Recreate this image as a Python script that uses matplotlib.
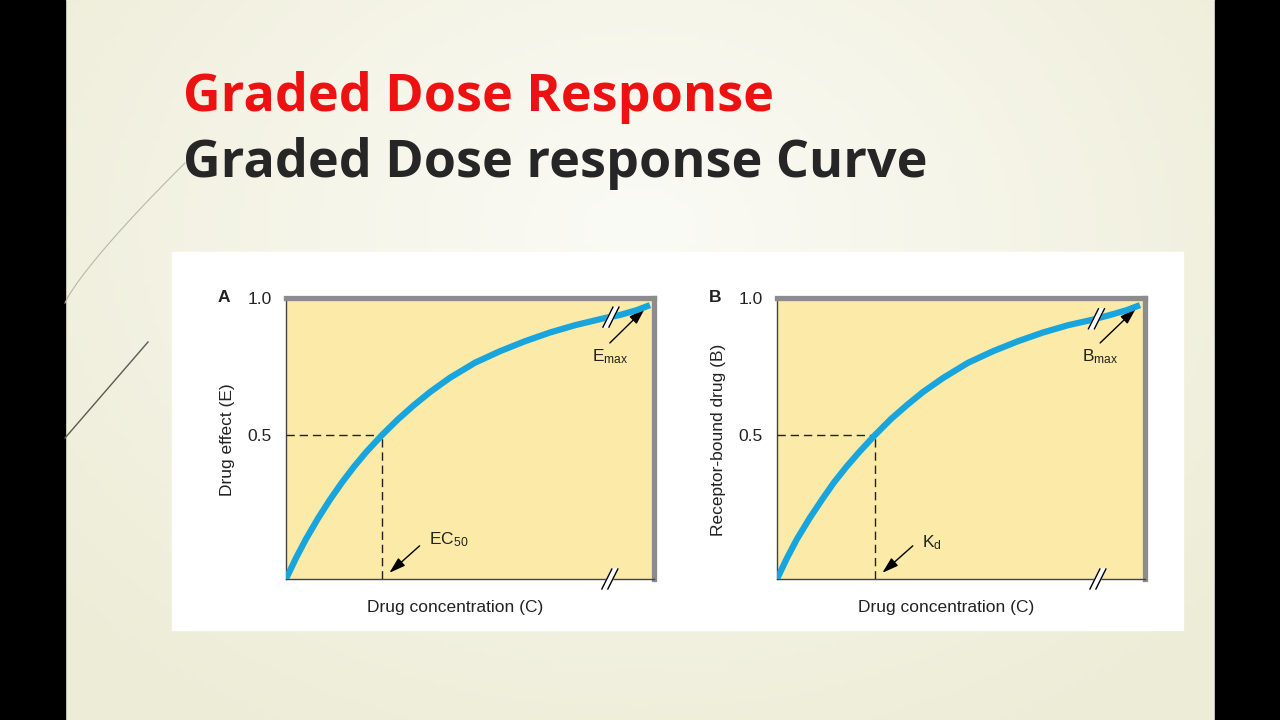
import numpy as np
import matplotlib.pyplot as plt
from matplotlib.patches import Rectangle

plt.rcParams['font.family'] = ['Liberation Sans', 'DejaVu Sans']
plt.rcParams['mathtext.fontset'] = 'custom'
plt.rcParams['mathtext.rm'] = 'Liberation Sans'
plt.rcParams['mathtext.it'] = 'Liberation Sans'

## Data (x is axis fraction, y in the tick scale)
conc_a = [0, 0.0272, 0.0543, 0.087, 0.1196, 0.1522, 0.1848, 0.2174, 0.2609, 0.3043, 0.3478,
          0.3913, 0.4457, 0.5136, 0.5815, 0.6495, 0.7174, 0.7853, 0.8668, 0.9076, 0.9538, 0.9891]
effect_a = [-0.0255, 0.0511, 0.1204, 0.1956, 0.2642, 0.327, 0.3843, 0.4369, 0.5, 0.5573, 0.6091,
            0.6566, 0.7091, 0.7639, 0.8058, 0.8423, 0.8741, 0.9007, 0.927, 0.938, 0.956, 0.974]
conc_b = [0, 0.0272, 0.0543, 0.0883, 0.1223, 0.1549, 0.1889, 0.2228, 0.2663, 0.3098, 0.3533,
          0.3967, 0.4511, 0.519, 0.587, 0.6549, 0.7228, 0.7908, 0.856, 0.9049, 0.9511, 0.9864]
bound_b = [-0.0255, 0.0511, 0.1204, 0.1956, 0.2642, 0.327, 0.3843, 0.4369, 0.5, 0.5584, 0.6095,
           0.6569, 0.708, 0.7635, 0.8058, 0.8423, 0.8741, 0.9007, 0.9204, 0.938, 0.956, 0.974]
ec50 = 0.2609
kd = 0.2663
half = 0.5
yticks = [0.5, 1.0]
ytick_labels = ['0.5', '1.0']

title_1 = 'Graded Dose Response'
title_2 = 'Graded Dose response Curve'

fig = plt.figure(figsize=(12.8, 7.2), dpi=100)

## Slide background
bg = fig.add_axes([0, 0, 1, 1])
gx, gy = np.meshgrid(np.linspace(0, 1280, 256), np.linspace(0, 720, 144))
r = np.sqrt(((gx - 640) / 800) ** 2 + ((gy - 230) / 600) ** 2)
r = np.clip(r, 0, 1)
c0 = np.array([251, 251, 246]) / 255
c1 = np.array([237, 236, 214]) / 255
img = c0[None, None, :] * (1 - r[..., None]) + c1[None, None, :] * r[..., None]
bg.imshow(img, extent=[0, 1280, 720, 0], aspect='auto')
bg.set_xlim(0, 1280)
bg.set_ylim(720, 0)
bg.axis('off')
bg.add_patch(Rectangle((0, 0), 65, 720, color='black'))
bg.add_patch(Rectangle((1215, 0), 65, 720, color='black'))
t = np.linspace(0, 1, 50)
bg.plot(65 + 120 * t, 303 - 140 * t ** 0.85, color='#b8b8a8', lw=0.8)
bg.plot(65 + 83 * t, 438 - 96 * t, color='#5a5a50', lw=1.0)
bg.add_patch(Rectangle((172, 252), 1011, 378, color='white'))

fig.text(0.143, 1 - 111 / 720, title_1, color='#EE1111', fontsize=37.5, fontweight='bold',
         family=['Open Sans', 'DejaVu Sans'], va='baseline')
fig.text(0.143, 1 - 177 / 720, title_2, color='#262626', fontsize=37.5, fontweight='bold',
         family=['Open Sans', 'DejaVu Sans'], va='baseline')


def brk(ax, x, y):
    sx, sy = 1 / 368, 1 / 281
    p1 = [(x - 8 * sx, y - 10 * sy), (x + 2 * sx, y + 10 * sy)]
    p2 = [(x - 2 * sx, y - 10 * sy), (x + 8 * sx, y + 10 * sy)]
    ax.fill([p1[0][0], p1[1][0], p2[1][0], p2[0][0]],
            [p1[0][1], p1[1][1], p2[1][1], p2[0][1]],
            color='white', transform=ax.transAxes, clip_on=False, zorder=6)
    for p in (p1, p2):
        ax.plot([p[0][0], p[1][0]], [p[0][1], p[1][1]], color='black', lw=1,
                transform=ax.transAxes, clip_on=False, zorder=7)


arrow = dict(arrowstyle='-|>,head_length=0.7,head_width=0.22', color='black', lw=1,
             mutation_scale=14, shrinkA=0, shrinkB=0)


def panel(rect, xs, ys, mid, letter, ylabel, sym, sym_max, curve_brk, axis_brk, sym_pos):
    ax = fig.add_axes(rect)
    ax.set_facecolor('#FCEAA8')
    ax.plot(xs, ys, color='#18A4DC', lw=4.5, solid_capstyle='butt', solid_joinstyle='round', zorder=4)
    ax.plot([0, mid], [half, half], color='#222222', lw=1, ls=(0, (6, 3.5)), zorder=3)
    ax.plot([mid, mid], [-0.0255, half], color='#222222', lw=1, ls=(0, (6, 3.5)), zorder=3)
    ax.set_xlim(0, 1)
    ax.set_ylim(-0.0255, 1.0)
    ax.set_xticks([])
    ax.set_yticks(yticks)
    ax.set_yticklabels(ytick_labels, fontsize=12.5, color='#222222')
    ax.tick_params(axis='y', length=0, pad=10)
    for s in ('left', 'bottom'):
        ax.spines[s].set_color('#444444')
        ax.spines[s].set_linewidth(1)
    for s in ('top', 'right'):
        ax.spines[s].set_color('#8c8c8c')
        ax.spines[s].set_linewidth(3.8)
    ax.text(-0.168, 1.0, letter, transform=ax.transAxes, fontsize=12.5, fontweight='bold',
            ha='center', va='center', color='#222222')
    ax.text(-0.16, 0.495, ylabel, transform=ax.transAxes, fontsize=12.5, rotation=90,
            ha='center', va='center', color='#222222')
    ax.text(0.459, -0.103, 'Drug concentration (C)', transform=ax.transAxes, fontsize=12.5,
            ha='center', va='center', color='#222222')
    # label for the midpoint
    ax.text(sym_pos[0], sym_pos[1], sym, transform=ax.transAxes, fontsize=12.5,
            ha='left', va='center', color='#222222')
    ax.annotate('', xy=(mid + 0.02, 0.022), xytext=(sym_pos[0] - 0.025, 0.118),
                xycoords='axes fraction', arrowprops=arrow)
    # label for the maximum
    ax.text(sym_pos[2], 0.79, sym_max, transform=ax.transAxes, fontsize=12.5,
            ha='center', va='center', color='#222222')
    ax.annotate('', xy=(0.975, 0.962), xytext=(sym_pos[2] + 0.0, 0.84),
                xycoords='axes fraction', arrowprops=arrow)
    brk(ax, curve_brk[0], curve_brk[1])
    brk(ax, axis_brk, 0)
    return ax


panel([286 / 1280, 1 - 579 / 720, 368 / 1280, 281 / 720], conc_a, effect_a, ec50, 'A',
      'Drug effect (E)', r'EC$_{50}$', r'E$_{\mathrm{max}}$', (0.883, 0.932), 0.88,
      (0.388, 0.14, 0.88))
panel([777 / 1280, 1 - 579 / 720, 368 / 1280, 281 / 720], conc_b, bound_b, kd, 'B',
      'Receptor-bound drug (B)', r'K$_{\mathrm{d}}$', r'B$_{\mathrm{max}}$', (0.868, 0.926), 0.872,
      (0.394, 0.13, 0.878))

fig.savefig('out.png', dpi=100)
